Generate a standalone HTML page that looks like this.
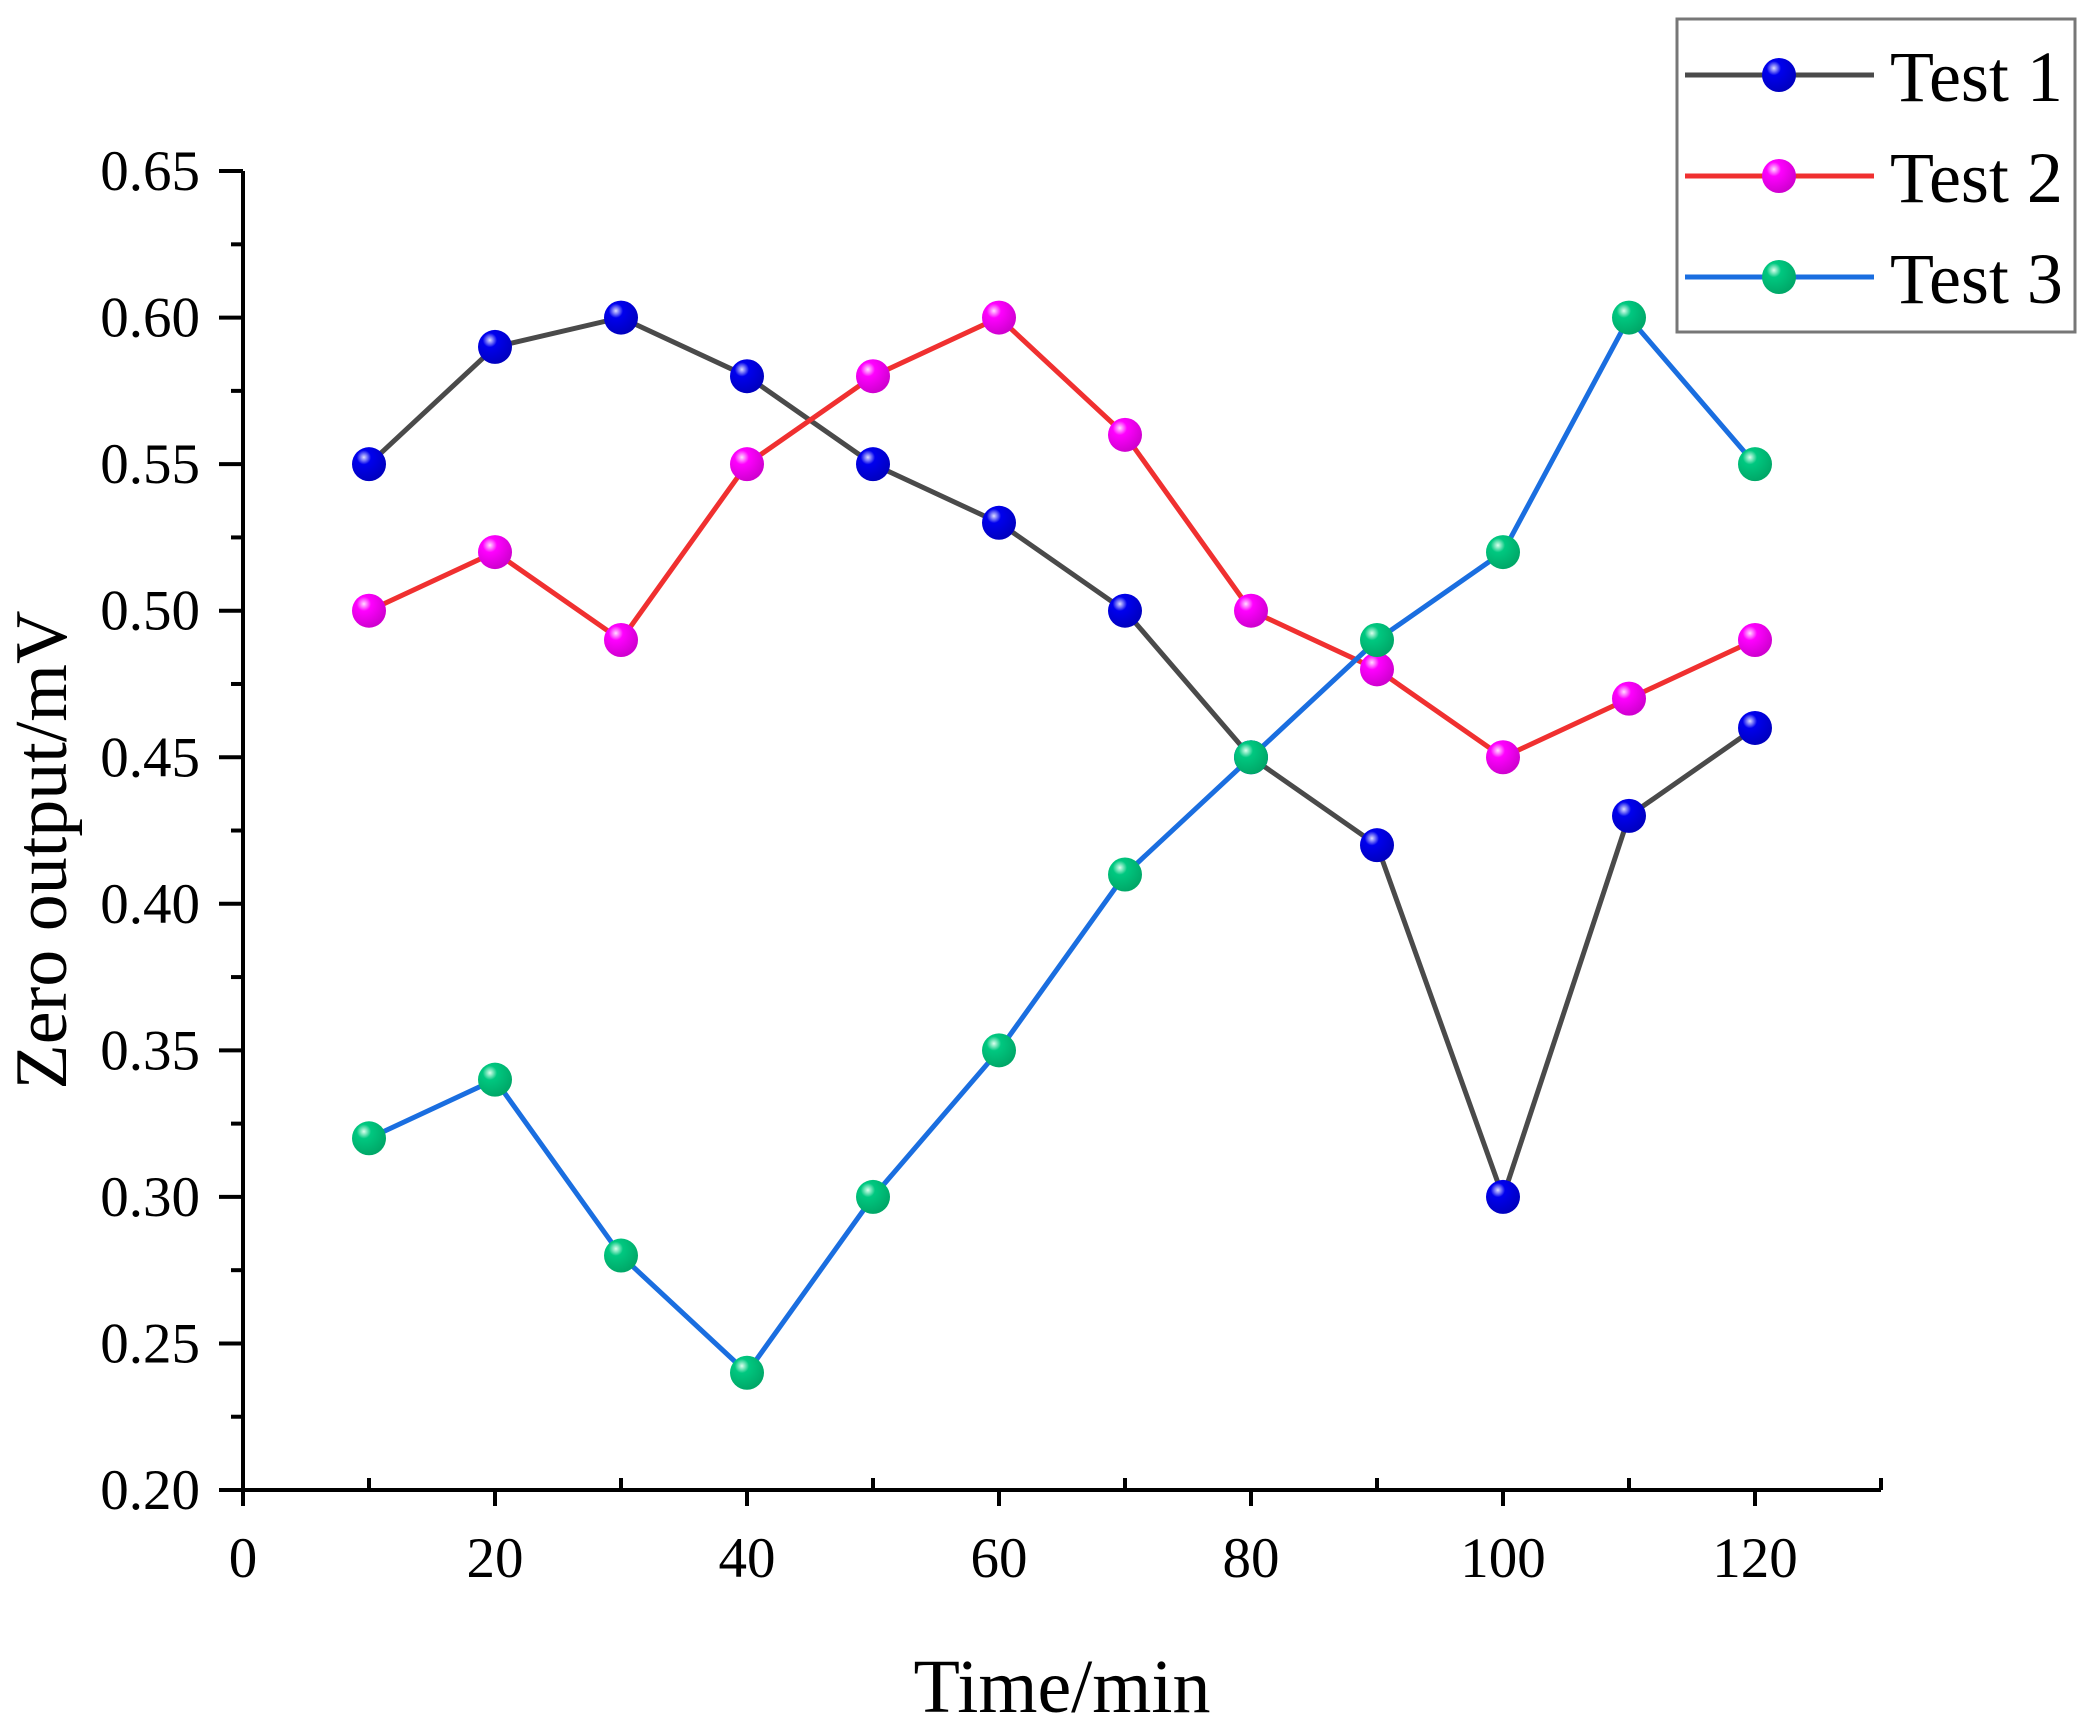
<!DOCTYPE html>
<html><head><meta charset="utf-8"><style>body{margin:0;background:#fff}</style></head><body>
<svg width="2092" height="1730" xmlns="http://www.w3.org/2000/svg" font-family="'Liberation Serif',serif">
<defs>
<radialGradient id="gb" cx="0.35" cy="0.3" r="0.7"><stop offset="0" stop-color="#ddf"/><stop offset="0.3" stop-color="#0000ee"/><stop offset="1" stop-color="#0000c0"/></radialGradient>
<radialGradient id="gm" cx="0.35" cy="0.3" r="0.7"><stop offset="0" stop-color="#fdf"/><stop offset="0.3" stop-color="#ff00ff"/><stop offset="1" stop-color="#d000d0"/></radialGradient>
<radialGradient id="gg" cx="0.35" cy="0.3" r="0.7"><stop offset="0" stop-color="#dfe"/><stop offset="0.3" stop-color="#00c880"/><stop offset="1" stop-color="#00a868"/></radialGradient>
</defs>
<g stroke="#000" stroke-width="4" fill="none">
<path d="M243,171 V1490 H1881"/>
</g>
<g stroke="#000" stroke-width="4" id="ticks"></g>
<g font-size="57" text-anchor="end" id="yl"></g>
<g font-size="57" text-anchor="middle" id="xl"></g>
<text x="1062" y="1712" font-size="76" text-anchor="middle">Time/min</text>
<text transform="translate(66,850) rotate(-90)" font-size="74" text-anchor="middle">Zero output/mV</text>
<g id="series"></g>
<rect x="1677" y="19" width="398" height="313" fill="#fff" stroke="#777" stroke-width="3"/>
<line x1="1685" y1="75" x2="1874" y2="75" stroke="#4a4a4a" stroke-width="5"/>
<circle cx="1779" cy="75" r="17" fill="url(#gb)"/>
<line x1="1685" y1="176" x2="1874" y2="176" stroke="#f03030" stroke-width="5"/>
<circle cx="1779" cy="176" r="17" fill="url(#gm)"/>
<line x1="1685" y1="277" x2="1874" y2="277" stroke="#1a6ee0" stroke-width="5"/>
<circle cx="1779" cy="277" r="17" fill="url(#gg)"/>
<g font-size="72"><text x="1890" y="101">Test 1</text><text x="1890" y="202">Test 2</text><text x="1890" y="303">Test 3</text></g>
<script>
var ns="http://www.w3.org/2000/svg";
function X(t){return 243+t*12.6}
function Y(v){return 1490-(v-0.2)*2931}
function el(p,n,a,txt){var e=document.createElementNS(ns,n);for(var k in a)e.setAttribute(k,a[k]);if(txt)e.textContent=txt;document.getElementById(p).appendChild(e);}
for(var i=0;i<=18;i++){var v=0.2+i*0.025,y=Y(v);el('ticks','line',{x1:i%2?231:219,y1:y,x2:243,y2:y});
 if(i%2==0)el('yl','text',{x:200,y:y+19},v.toFixed(2));}
for(var t=0;t<=130;t+=10){var x=X(t);el('ticks','line',{x1:x,y1:1490,x2:x,y2:t%20?1478:1506});
 if(t%20==0)el('xl','text',{x:x,y:1577},String(t));}
var d=[[[.55,.59,.6,.58,.55,.53,.5,.45,.42,.3,.43,.46],'#4a4a4a','gb'],
[[.5,.52,.49,.55,.58,.6,.56,.5,.48,.45,.47,.49],'#f03030','gm'],
[[.32,.34,.28,.24,.3,.35,.41,.45,.49,.52,.6,.55],'#1a6ee0','gg']];
d.forEach(function(s){var p=s[0].map(function(v,i){return X(10+10*i)+','+Y(v)}).join(' ');
 el('series','polyline',{points:p,fill:'none',stroke:s[1],'stroke-width':5});});
d.forEach(function(s){s[0].forEach(function(v,i){el('series','circle',{cx:X(10+10*i),cy:Y(v),r:17,fill:'url(#'+s[2]+')'});});});
</script>
</svg>
</body></html>
